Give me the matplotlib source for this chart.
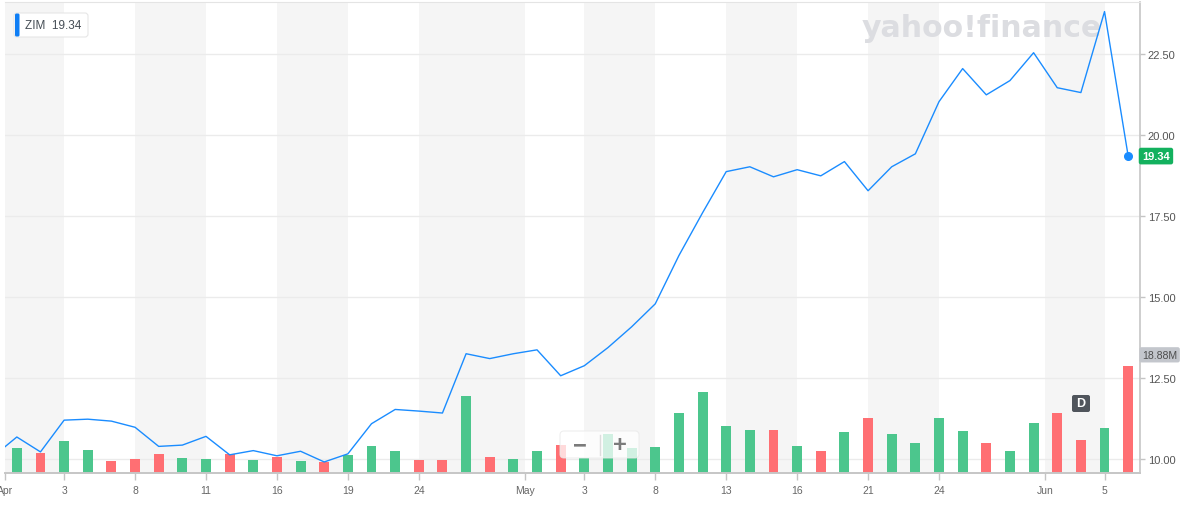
import matplotlib
matplotlib.use('Agg')
import matplotlib.pyplot as plt
from matplotlib.patches import FancyBboxPatch
from matplotlib.lines import Line2D
from matplotlib.transforms import IdentityTransform
import pandas as pd

plt.rcParams['font.family'] = ['Liberation Sans', 'DejaVu Sans']

ticker = 'ZIM'
holidays = ['2024-03-29', '2024-05-27']
dates = pd.bdate_range('2024-03-28', '2024-06-06', freq='C', holidays=holidays)

# close prices, Mar 28 .. Jun 6
prices = [10.07,
          10.67, 10.21, 11.19, 11.22, 11.16, 10.97, 10.38, 10.42, 10.69, 10.12,
          10.25, 10.09, 10.23, 9.90, 10.15, 11.08, 11.52, 11.47, 11.41, 13.24,
          13.09, 13.24, 13.36, 12.56, 12.87, 13.43, 14.07, 14.78, 16.27, 17.59,
          18.86, 19.01, 18.70, 18.92, 18.73, 19.17, 18.27, 19.01, 19.41, 21.02,
          22.04, 21.23, 21.67, 22.53, 21.45, 21.30, 23.80, 19.34]

# volume in millions, Apr 1 .. Jun 6
volume = [4.4, 3.6, 5.7, 4.1, 2.2, 2.5, 3.4, 2.7, 2.5, 3.4, 2.35, 2.9,
          2.2, 1.9, 3.2, 4.8, 3.8, 2.35, 2.35, 13.6, 2.9, 2.5, 3.8, 5.0,
          2.6, 6.9, 4.4, 4.5, 10.6, 14.3, 8.3, 7.5, 7.6, 4.8, 3.8, 7.2,
          9.75, 6.9, 5.3, 9.75, 7.35, 5.3, 3.9, 8.9, 10.5, 5.9, 8.0, 18.88]

tick_dates = ['2024-04-03', '2024-04-08', '2024-04-11', '2024-04-16', '2024-04-19',
              '2024-04-24', '2024-05-03', '2024-05-08', '2024-05-13', '2024-05-16',
              '2024-05-21', '2024-05-24', '2024-06-05']
price_ticks = [10.0, 12.5, 15.0, 17.5, 20.0, 22.5]

WPX, HPX = 1180, 506
up_c, down_c = '#4cc68d', '#ff6f73'
line_c = '#1a8cff'

fig = plt.figure(figsize=(WPX / 100, HPX / 100), dpi=100)
axv = fig.add_axes([5 / WPX, 32 / HPX, 1135 / WPX, 470.7 / HPX])
ax = axv.twinx()
ax.patch.set_visible(False)

n = len(dates)
xs = list(range(n))

# ticks: day labels + month boundaries
ticks = []
for d in tick_dates:
    ticks.append((dates.get_loc(pd.Timestamp(d)), str(pd.Timestamp(d).day)))
for i in range(1, n):
    if dates[i].month != dates[i - 1].month:
        ticks.append((i - 0.5, dates[i].strftime('%b')))
ticks.sort()
tpos = [t[0] for t in ticks]
tlab = [t[1] for t in ticks]

for k in range(0, len(tpos) - 1, 2):
    axv.axvspan(tpos[k], tpos[k + 1], color='#f5f5f5', lw=0, zorder=0)

# horizontal grid at price levels, kept under the bars
for p in price_ticks:
    axv.add_line(Line2D([0, 1], [p, p], transform=ax.get_yaxis_transform(),
                        color='#ebebeb', lw=1, zorder=0.5))

# volume bars
vx = xs[1:]
vcol = [up_c if prices[i] >= prices[i - 1] else down_c for i in vx]
axv.bar(vx, volume, width=0.42, color=vcol, zorder=1)
axv.set_ylim(0, 83.0)
axv.set_yticks([])
axv.set_xlim(0.53, n - 0.5)
axv.set_xticks(tpos, tlab)
axv.tick_params(axis='x', length=5, width=1, color='#c4c4c4', labelcolor='#666666',
                labelsize=7.5, pad=4)
axv.spines['left'].set_visible(False)
axv.spines['top'].set_color('#e4e4e4')
axv.spines['bottom'].set_color('#c6c6c6')
axv.spines['bottom'].set_linewidth(1.4)
axv.spines['right'].set_color('#c6c6c6')
axv.spines['right'].set_linewidth(1.2)

# price line
ax.plot(xs, prices, color=line_c, lw=1.0, zorder=3)
ax.plot(xs[-1], prices[-1], 'o', ms=5.5, color=line_c, zorder=4)
ax.set_ylim(9.559, 24.086)
ax.set_yticks(price_ticks, ['%.2f' % p for p in price_ticks])
ax.tick_params(axis='y', length=3.5, width=1, color='#c4c4c4', labelcolor='#555555',
               labelsize=8, pad=2)
for s in ax.spines.values():
    s.set_visible(False)

ax.annotate('%.2f' % prices[-1], xy=(1.0, prices[-1]), xycoords=ax.get_yaxis_transform(),
            xytext=(1.5, 0), textcoords='offset points', ha='left', va='center',
            color='white', fontweight='bold', fontsize=8, annotation_clip=False, zorder=6,
            bbox=dict(boxstyle='round,pad=0.3,rounding_size=0.2', fc='#13b15e', ec='none'))
axv.annotate('%.2fM' % volume[-1], xy=(1.0, volume[-1]), xycoords=axv.get_yaxis_transform(),
             xytext=(1.5, 8), textcoords='offset points', ha='left', va='center',
             color='#4d4d4d', fontsize=7.6, annotation_clip=False, zorder=6,
             bbox=dict(boxstyle='round,pad=0.25,rounding_size=0.2', fc='#c3c6cc', ec='none'))

# watermark
axv.text(862 / WPX, 1 - 37 / HPX, 'yahoo!finance', transform=fig.transFigure,
         family='DejaVu Sans', fontweight='bold', fontsize=21.6, color='#dcdde1',
         va='baseline', ha='left', zorder=0.8)


def box(x0, y0, x1, y1, r=3, **kw):
    p = FancyBboxPatch((x0, HPX - y1), x1 - x0, y1 - y0,
                       boxstyle='round,pad=0,rounding_size=%g' % r,
                       transform=IdentityTransform(), **kw)
    fig.add_artist(p)


def label(x, y, s, **kw):
    fig.text(x, HPX - y, s, transform=IdentityTransform(), ha='center', va='center', **kw)


# legend chip
box(14, 14, 88, 38, r=3, fc='white', ec='#e6e6e6', lw=0.8, zorder=10)
box(15, 14.5, 19.5, 37.5, r=1.5, fc='#0f7ef5', ec='none', zorder=11)
fig.text(25, HPX - 26.5, '%s  %.2f' % (ticker, prices[-1]), transform=IdentityTransform(),
         ha='left', va='center', fontsize=8.5, color='#464e56', zorder=12)

# zoom control
box(560, 432, 639, 459, r=4, fc='white', ec='#e9e9e9', lw=0.8, alpha=0.75, zorder=10)
fig.add_artist(Line2D([599.5, 599.5], [HPX - 456, HPX - 436], transform=IdentityTransform(),
                      color='#dddddd', lw=1, zorder=11))
label(580, 446, '\u2212', fontsize=17, fontweight='bold', color='#7b7b7b', zorder=12)
label(620, 445.5, '+', fontsize=17, fontweight='bold', color='#7b7b7b', zorder=12)

# D badge
box(1072, 396, 1090, 413, r=2, fc='#50555c', ec='none', zorder=10)
label(1081, 404.5, 'D', fontsize=9, fontweight='bold', color='white', zorder=12)

fig.savefig('out.png', dpi=100)
